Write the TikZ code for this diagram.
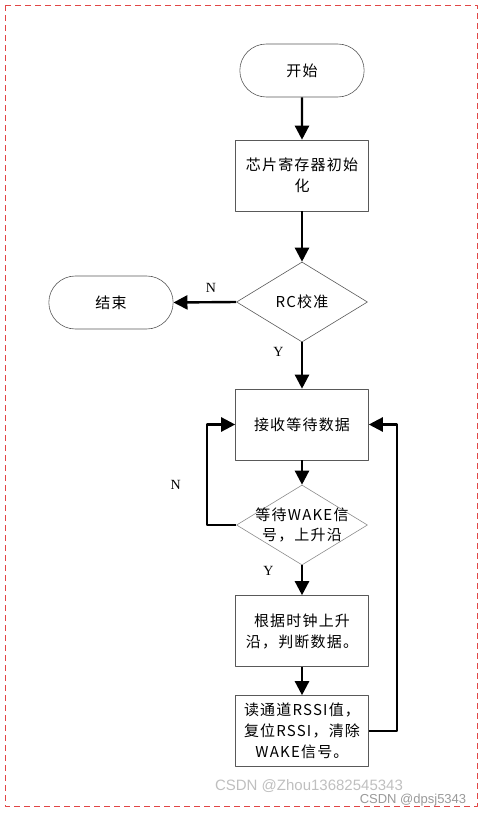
\documentclass[tikz,border=0pt]{standalone}
\usepackage{fontspec}
\setmainfont{Liberation Serif}
\newfontfamily\cjk[LetterSpace=8]{Noto Sans CJK SC}
\newfontfamily\wmfont{Liberation Sans}
\definecolor{borderred}{RGB}{226,70,70}
\usetikzlibrary{arrows.meta,shapes.geometric,shapes.misc}
\tikzset{
	term/.style={rounded rectangle,draw=black!65,line width=0.6pt,minimum width=131pt,minimum height=53pt,font=\cjk\fontsize{15}{18}\selectfont},
	proc/.style={rectangle,draw=black!65,line width=0.6pt,minimum width=133pt,minimum height=71pt,align=center,inner sep=2pt,font=\cjk\fontsize{15}{21}\selectfont},
	decide/.style={diamond,draw=black!65,line width=0.6pt,minimum width=131pt,minimum height=80pt,inner sep=0pt},
	flow/.style={->,line width=2.4pt},
	yn/.style={font=\fontsize{14}{16}\selectfont},
}
\begin{document}
\begin{tikzpicture}[x=1pt,y=-1pt,>={Triangle[length=14pt,width=14pt]},line join=round]
				\useasboundingbox (0,0) rectangle (482,819);
				\draw[borderred,line width=1pt,dash pattern=on 6pt off 4pt] (5,5) rectangle (477,806);
				% main column
				\node[term] (start) at (302,70.5) {开始};
				\node[proc] (init) at (302,175.5) {芯片寄存器初始\\化};
				\node[decide,label={[font=\cjk\fontsize{15}{18}\selectfont]center:RC校准}] (rc) at (302,302) {};
				\node[term] (stop) at (111,302.5) {结束};
				\node[proc] (recv) at (302,424.5) {接收等待数据};
				\node[decide,draw=black!45,label={[align=center,font=\cjk\fontsize{15}{20}\selectfont]center:等待WAKE信\\号，上升沿}] (wake) at (302,525) {};
				\node[proc] (judge) at (302,631) {根据时钟上升\\沿，判断数据。};
				\node[proc] (rssi) at (302,731) {读通道RSSI值，\\复位RSSI，清除\\WAKE信号。};
				% connectors
				\draw[flow] (rc.west) -- node[yn,above=5pt,xshift=6pt]{N} (stop.east);
				\draw[flow] (start) -- (init);
				\draw[flow] (init) -- (rc);
				\draw[flow] (rc.south) -- node[yn,pos=0.2,left=14pt]{Y} (recv.north);
				\draw[flow] (recv) -- (wake);
				\draw[flow] (wake.west) -- ++(-29,0) |- node[yn,pos=0.2,left=22pt]{N} (recv.west);
				\draw[flow] (wake.south) -- node[yn,pos=0.2,left=24pt]{Y} (judge.north);
				\draw[flow] (judge) -- (rssi);
				\draw[flow] (rssi.east) -- ++(28,0) |- (recv.east);
				% watermarks
				\node[black!25,font=\wmfont\fontsize{15}{17}\selectfont] (wm1) at (309,786) {CSDN @Zhou13682545343};
				\node[black!40,font=\wmfont\fontsize{13}{15}\selectfont] (wm2) at (413,800) {CSDN @dpsj5343};
\end{tikzpicture}
\end{document}
